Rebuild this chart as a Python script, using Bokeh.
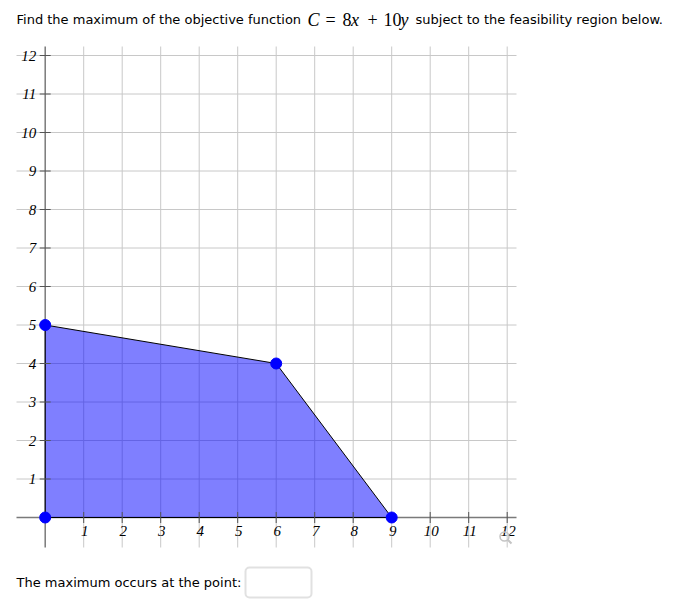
from bokeh.plotting import figure
from bokeh.models import Range1d, Label, BoxAnnotation, ColumnDataSource
from bokeh.core.properties import value
from bokeh.embed import file_html
from bokeh.resources import INLINE

# ---- data ----
vertex_x = [0, 0, 6, 9]
vertex_y = [0, 5, 4, 0]
x_ticks = [1, 2, 3, 4, 5, 6, 7, 8, 9, 10, 11, 12]
y_ticks = [1, 2, 3, 4, 5, 6, 7, 8, 9, 10, 11, 12]
x_tick_labels = [str(v) for v in x_ticks]
y_tick_labels = [str(v) for v in y_ticks]

title_text_1 = "Find the maximum of the objective function"
title_text_2 = "subject to the feasibility region below."
bottom_text = "The maximum occurs at the point:"

SANS = "DejaVu Sans"
SERIF = "Liberation Serif"

# ---- layout (pixels) ----
W, H = 672, 608
UNIT = 38.5          # pixels per unit
X0_PX, Y0_PX = 44.7, 517.0   # pixel position of the origin
BOX_L, BOX_R, BOX_T, BOX_B = 16, 516, 46, 547  # board box in pixels


def dx(px):
    return (px - X0_PX) / UNIT


def dy(py):
    return (Y0_PX - py) / UNIT


p = figure(width=W, height=H,
           x_range=Range1d(dx(0), dx(W)), y_range=Range1d(dy(H), dy(0)),
           x_axis_type=None, y_axis_type=None,
           output_backend="svg", toolbar_location=None,
           min_border=0, min_border_left=0, min_border_right=0,
           min_border_top=0, min_border_bottom=0)
p.outline_line_color = None
p.background_fill_color = "white"
p.border_fill_color = "white"

bl, br, bt, bb = dx(BOX_L), dx(BOX_R), dy(BOX_T), dy(BOX_B)

# grid lines
p.segment(x0=x_ticks, y0=[bb] * len(x_ticks), x1=x_ticks, y1=[bt] * len(x_ticks),
          line_color="#c8c8c8", line_width=1)
p.segment(x0=[bl] * len(y_ticks), y0=y_ticks, x1=[br] * len(y_ticks), y1=y_ticks,
          line_color="#c8c8c8", line_width=1)

# axes lines
p.segment(x0=[bl], y0=[0], x1=[br], y1=[0], line_color="#7a7a7a", line_width=1.5)
p.segment(x0=[0], y0=[bb], x1=[0], y1=[bt], line_color="#7a7a7a", line_width=1.5)

# feasible region
p.patch(vertex_x, vertex_y, fill_color="#0000ff", fill_alpha=0.5,
        line_color="black", line_width=1)

# tick marks
p.scatter(x=[0] * len(y_ticks), y=y_ticks, marker="dash", size=11,
          line_color="#555555", line_width=1)
p.scatter(x=x_ticks, y=[0] * len(x_ticks), marker="dash", size=11, angle=1.5708,
          line_color="#555555", line_width=1)

# tick labels
xsrc = ColumnDataSource(dict(x=x_ticks, y=[0] * len(x_ticks), t=x_tick_labels))
p.text(x="x", y="y", text="t", source=xsrc, text_align="center",
       text_baseline="middle", y_offset=13, x_offset=1,
       text_font=value(SERIF), text_font_style="italic",
       text_font_size="15px", text_color="black")
ysrc = ColumnDataSource(dict(x=[0] * len(y_ticks), y=y_ticks, t=y_tick_labels))
p.text(x="x", y="y", text="t", source=ysrc, text_align="right",
       text_baseline="middle", x_offset=-9,
       text_font=value(SERIF), text_font_style="italic",
       text_font_size="15px", text_color="black")

# vertices
p.scatter(vertex_x, vertex_y, size=11, fill_color="#0000ff", line_color="#0000ff")

# zoom (magnifier) icon of the board, bottom-right corner
p.scatter(x=[dx(504)], y=[dy(536)], marker="circle", size=9, fill_color=None,
          line_color="#c4c4c4", line_width=1.5)
p.segment(x0=[dx(507)], y0=[dy(539)], x1=[dx(511)], y1=[dy(543)],
          line_color="#c4c4c4", line_width=2)


# ---- texts (screen units, y measured from the bottom) ----
def lab(txt, px, py, font, size, style="normal"):
    p.add_layout(Label(x=px, y=H - py, x_units="screen", y_units="screen", text=txt,
                       text_font=font, text_font_size=size, text_font_style=style,
                       text_align="left", text_baseline="alphabetic",
                       text_color="black"))


TY = 19
lab(title_text_1, 16, TY, SANS, "13px")
lab("C", 307, TY, SERIF, "18px", "italic")
lab("=", 325, TY, SERIF, "18px")
lab("8", 342, TY, SERIF, "18px")
lab("x", 350.5, TY, SERIF, "18px", "italic")
lab("+", 367, TY, SERIF, "18px")
lab("10", 383, TY, SERIF, "18px")
lab("y", 400, TY, SERIF, "18px", "italic")
lab(title_text_2, 415, TY, SANS, "13px")

lab(bottom_text, 16, 582, SANS, "13px")
p.add_layout(BoxAnnotation(left=245, right=311, top=H - 567, bottom=H - 597,
                           left_units="screen", right_units="screen",
                           top_units="screen", bottom_units="screen",
                           fill_color="white", fill_alpha=1,
                           line_color="#9a9a9a", line_width=2, border_radius=4))

open("out.html", "w").write(file_html(p, INLINE))
